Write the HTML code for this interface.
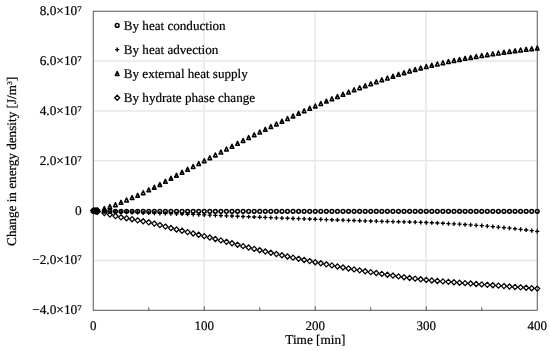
<!DOCTYPE html>
<html><head><meta charset="utf-8"><title>Change in energy density</title>
<style>
html,body{margin:0;padding:0;background:#fff;}
svg{display:block;}
text{font-family:"Liberation Serif","Times New Roman",serif;fill:#000;text-rendering:geometricPrecision;stroke:#000;stroke-width:0.2px;}
</style></head><body>
<svg width="550" height="351" viewBox="0 0 550 351">
<rect width="550" height="351" fill="#fff"/>
<defs>
<circle id="mc" r="1.85" fill="none" stroke="#000" stroke-width="1.5"/>
<path id="mp" d="M-2.1 0H2.1M0 -2.1V2.1" stroke="#000" stroke-width="1.35" fill="none"/>
<path id="mt" d="M0 -2L1.8 1.9H-1.8Z" fill="none" stroke="#000" stroke-width="1.55" stroke-linejoin="round"/>
<path id="md" d="M0 -2.55L2.5 0L0 2.55L-2.5 0Z" fill="none" stroke="#000" stroke-width="1.25"/>
</defs>

<g stroke="#e7e7e7" stroke-width="1.5" fill="none">
<path d="M93.25 61.09H537.25"/>
<path d="M93.25 110.93H537.25"/>
<path d="M93.25 160.78H537.25"/>
<path d="M93.25 210.62H537.25"/>
<path d="M93.25 260.46H537.25"/>
<path d="M204.05 11.25V310.3"/>
<path d="M315.05 11.25V310.3"/>
<path d="M426.05 11.25V310.3"/>
</g>
<rect x="93.25" y="11.25" width="444" height="299.05" fill="none" stroke="#555" stroke-width="1"/>
<g stroke="#555" stroke-width="1">
<path d="M148.75 310.3v-3"/>
<path d="M204.25 310.3v-4"/>
<path d="M259.75 310.3v-3"/>
<path d="M315.25 310.3v-4"/>
<path d="M370.75 310.3v-3"/>
<path d="M426.25 310.3v-4"/>
<path d="M481.75 310.3v-3"/>
</g>
<g>
<use href="#md" x="93.25" y="210.62"/>
<use href="#md" x="93.81" y="210.73"/>
<use href="#md" x="94.36" y="210.85"/>
<use href="#md" x="94.92" y="210.96"/>
<use href="#md" x="95.47" y="211.08"/>
<use href="#md" x="96.03" y="211.2"/>
<use href="#md" x="96.58" y="211.32"/>
<use href="#md" x="97.14" y="211.44"/>
<use href="#md" x="97.69" y="211.56"/>
<use href="#md" x="104.35" y="213.11"/>
<use href="#md" x="109.9" y="214.53"/>
<use href="#md" x="115.45" y="216.1"/>
<use href="#md" x="121" y="217.35"/>
<use href="#md" x="126.55" y="218.22"/>
<use href="#md" x="132.1" y="219.21"/>
<use href="#md" x="137.65" y="220.34"/>
<use href="#md" x="143.2" y="221.31"/>
<use href="#md" x="148.75" y="222.33"/>
<use href="#md" x="154.3" y="223.61"/>
<use href="#md" x="159.85" y="225.08"/>
<use href="#md" x="165.4" y="226.6"/>
<use href="#md" x="170.95" y="228.06"/>
<use href="#md" x="176.5" y="229.44"/>
<use href="#md" x="182.05" y="230.79"/>
<use href="#md" x="187.6" y="232.12"/>
<use href="#md" x="193.15" y="233.46"/>
<use href="#md" x="198.7" y="234.8"/>
<use href="#md" x="204.25" y="236.16"/>
<use href="#md" x="209.8" y="237.55"/>
<use href="#md" x="215.35" y="238.97"/>
<use href="#md" x="220.9" y="240.41"/>
<use href="#md" x="226.45" y="241.86"/>
<use href="#md" x="232" y="243.3"/>
<use href="#md" x="237.55" y="244.74"/>
<use href="#md" x="243.1" y="246.16"/>
<use href="#md" x="248.65" y="247.56"/>
<use href="#md" x="254.2" y="248.92"/>
<use href="#md" x="259.75" y="250.24"/>
<use href="#md" x="265.3" y="251.53"/>
<use href="#md" x="270.85" y="252.79"/>
<use href="#md" x="276.4" y="254.04"/>
<use href="#md" x="281.95" y="255.27"/>
<use href="#md" x="287.5" y="256.48"/>
<use href="#md" x="293.05" y="257.67"/>
<use href="#md" x="298.6" y="258.84"/>
<use href="#md" x="304.15" y="259.98"/>
<use href="#md" x="309.7" y="261.1"/>
<use href="#md" x="315.25" y="262.2"/>
<use href="#md" x="320.8" y="263.28"/>
<use href="#md" x="326.35" y="264.35"/>
<use href="#md" x="331.9" y="265.41"/>
<use href="#md" x="337.45" y="266.44"/>
<use href="#md" x="343" y="267.46"/>
<use href="#md" x="348.55" y="268.45"/>
<use href="#md" x="354.1" y="269.42"/>
<use href="#md" x="359.65" y="270.37"/>
<use href="#md" x="365.2" y="271.28"/>
<use href="#md" x="370.75" y="272.17"/>
<use href="#md" x="376.3" y="273.04"/>
<use href="#md" x="381.85" y="273.91"/>
<use href="#md" x="387.4" y="274.76"/>
<use href="#md" x="392.95" y="275.6"/>
<use href="#md" x="398.5" y="276.41"/>
<use href="#md" x="404.05" y="277.2"/>
<use href="#md" x="409.6" y="277.94"/>
<use href="#md" x="415.15" y="278.65"/>
<use href="#md" x="420.7" y="279.3"/>
<use href="#md" x="426.25" y="279.9"/>
<use href="#md" x="431.8" y="280.44"/>
<use href="#md" x="437.35" y="280.95"/>
<use href="#md" x="442.9" y="281.43"/>
<use href="#md" x="448.45" y="281.87"/>
<use href="#md" x="454" y="282.3"/>
<use href="#md" x="459.55" y="282.72"/>
<use href="#md" x="465.1" y="283.13"/>
<use href="#md" x="470.65" y="283.54"/>
<use href="#md" x="476.2" y="283.95"/>
<use href="#md" x="481.75" y="284.38"/>
<use href="#md" x="487.3" y="284.82"/>
<use href="#md" x="492.85" y="285.25"/>
<use href="#md" x="498.4" y="285.68"/>
<use href="#md" x="503.95" y="286.11"/>
<use href="#md" x="509.5" y="286.53"/>
<use href="#md" x="515.05" y="286.95"/>
<use href="#md" x="520.6" y="287.37"/>
<use href="#md" x="526.15" y="287.79"/>
<use href="#md" x="531.7" y="288.21"/>
<use href="#md" x="537.25" y="288.62"/>
</g>
<g>
<use href="#mp" x="93.25" y="210.62"/>
<use href="#mp" x="93.81" y="210.66"/>
<use href="#mp" x="94.36" y="210.7"/>
<use href="#mp" x="94.92" y="210.75"/>
<use href="#mp" x="95.47" y="210.79"/>
<use href="#mp" x="96.03" y="210.83"/>
<use href="#mp" x="96.58" y="210.87"/>
<use href="#mp" x="97.14" y="210.91"/>
<use href="#mp" x="97.69" y="210.95"/>
<use href="#mp" x="104.35" y="211.36"/>
<use href="#mp" x="109.9" y="211.63"/>
<use href="#mp" x="115.45" y="211.86"/>
<use href="#mp" x="121" y="212.06"/>
<use href="#mp" x="126.55" y="212.24"/>
<use href="#mp" x="132.1" y="212.43"/>
<use href="#mp" x="137.65" y="212.62"/>
<use href="#mp" x="143.2" y="212.81"/>
<use href="#mp" x="148.75" y="212.98"/>
<use href="#mp" x="154.3" y="213.14"/>
<use href="#mp" x="159.85" y="213.3"/>
<use href="#mp" x="165.4" y="213.46"/>
<use href="#mp" x="170.95" y="213.63"/>
<use href="#mp" x="176.5" y="213.81"/>
<use href="#mp" x="182.05" y="214"/>
<use href="#mp" x="187.6" y="214.2"/>
<use href="#mp" x="193.15" y="214.42"/>
<use href="#mp" x="198.7" y="214.63"/>
<use href="#mp" x="204.25" y="214.85"/>
<use href="#mp" x="209.8" y="215.08"/>
<use href="#mp" x="215.35" y="215.31"/>
<use href="#mp" x="220.9" y="215.55"/>
<use href="#mp" x="226.45" y="215.8"/>
<use href="#mp" x="232" y="216.04"/>
<use href="#mp" x="237.55" y="216.29"/>
<use href="#mp" x="243.1" y="216.53"/>
<use href="#mp" x="248.65" y="216.77"/>
<use href="#mp" x="254.2" y="217"/>
<use href="#mp" x="259.75" y="217.22"/>
<use href="#mp" x="265.3" y="217.43"/>
<use href="#mp" x="270.85" y="217.64"/>
<use href="#mp" x="276.4" y="217.85"/>
<use href="#mp" x="281.95" y="218.05"/>
<use href="#mp" x="287.5" y="218.25"/>
<use href="#mp" x="293.05" y="218.45"/>
<use href="#mp" x="298.6" y="218.64"/>
<use href="#mp" x="304.15" y="218.83"/>
<use href="#mp" x="309.7" y="219.02"/>
<use href="#mp" x="315.25" y="219.21"/>
<use href="#mp" x="320.8" y="219.4"/>
<use href="#mp" x="326.35" y="219.59"/>
<use href="#mp" x="331.9" y="219.78"/>
<use href="#mp" x="337.45" y="219.97"/>
<use href="#mp" x="343" y="220.16"/>
<use href="#mp" x="348.55" y="220.34"/>
<use href="#mp" x="354.1" y="220.52"/>
<use href="#mp" x="359.65" y="220.7"/>
<use href="#mp" x="365.2" y="220.87"/>
<use href="#mp" x="370.75" y="221.03"/>
<use href="#mp" x="376.3" y="221.19"/>
<use href="#mp" x="381.85" y="221.33"/>
<use href="#mp" x="387.4" y="221.47"/>
<use href="#mp" x="392.95" y="221.6"/>
<use href="#mp" x="398.5" y="221.73"/>
<use href="#mp" x="404.05" y="221.87"/>
<use href="#mp" x="409.6" y="222.01"/>
<use href="#mp" x="415.15" y="222.17"/>
<use href="#mp" x="420.7" y="222.34"/>
<use href="#mp" x="426.25" y="222.53"/>
<use href="#mp" x="431.8" y="222.75"/>
<use href="#mp" x="437.35" y="222.99"/>
<use href="#mp" x="442.9" y="223.26"/>
<use href="#mp" x="448.45" y="223.55"/>
<use href="#mp" x="454" y="223.86"/>
<use href="#mp" x="459.55" y="224.19"/>
<use href="#mp" x="465.1" y="224.54"/>
<use href="#mp" x="470.65" y="224.91"/>
<use href="#mp" x="476.2" y="225.3"/>
<use href="#mp" x="481.75" y="225.69"/>
<use href="#mp" x="487.3" y="226.12"/>
<use href="#mp" x="492.85" y="226.58"/>
<use href="#mp" x="498.4" y="227.07"/>
<use href="#mp" x="503.95" y="227.59"/>
<use href="#mp" x="509.5" y="228.15"/>
<use href="#mp" x="515.05" y="228.73"/>
<use href="#mp" x="520.6" y="229.34"/>
<use href="#mp" x="526.15" y="229.97"/>
<use href="#mp" x="531.7" y="230.63"/>
<use href="#mp" x="537.25" y="231.3"/>
</g>
<g>
<use href="#mc" x="93.25" y="210.62"/>
<use href="#mc" x="93.81" y="210.64"/>
<use href="#mc" x="94.36" y="210.66"/>
<use href="#mc" x="94.92" y="210.68"/>
<use href="#mc" x="95.47" y="210.7"/>
<use href="#mc" x="96.03" y="210.71"/>
<use href="#mc" x="96.58" y="210.73"/>
<use href="#mc" x="97.14" y="210.75"/>
<use href="#mc" x="97.69" y="210.77"/>
<use href="#mc" x="104.35" y="210.99"/>
<use href="#mc" x="109.9" y="211.2"/>
<use href="#mc" x="115.45" y="211.31"/>
<use href="#mc" x="121" y="211.32"/>
<use href="#mc" x="126.55" y="211.32"/>
<use href="#mc" x="132.1" y="211.32"/>
<use href="#mc" x="137.65" y="211.32"/>
<use href="#mc" x="143.2" y="211.32"/>
<use href="#mc" x="148.75" y="211.33"/>
<use href="#mc" x="154.3" y="211.33"/>
<use href="#mc" x="159.85" y="211.33"/>
<use href="#mc" x="165.4" y="211.33"/>
<use href="#mc" x="170.95" y="211.33"/>
<use href="#mc" x="176.5" y="211.33"/>
<use href="#mc" x="182.05" y="211.33"/>
<use href="#mc" x="187.6" y="211.34"/>
<use href="#mc" x="193.15" y="211.34"/>
<use href="#mc" x="198.7" y="211.34"/>
<use href="#mc" x="204.25" y="211.34"/>
<use href="#mc" x="209.8" y="211.34"/>
<use href="#mc" x="215.35" y="211.34"/>
<use href="#mc" x="220.9" y="211.34"/>
<use href="#mc" x="226.45" y="211.34"/>
<use href="#mc" x="232" y="211.34"/>
<use href="#mc" x="237.55" y="211.35"/>
<use href="#mc" x="243.1" y="211.35"/>
<use href="#mc" x="248.65" y="211.35"/>
<use href="#mc" x="254.2" y="211.35"/>
<use href="#mc" x="259.75" y="211.35"/>
<use href="#mc" x="265.3" y="211.35"/>
<use href="#mc" x="270.85" y="211.35"/>
<use href="#mc" x="276.4" y="211.35"/>
<use href="#mc" x="281.95" y="211.35"/>
<use href="#mc" x="287.5" y="211.35"/>
<use href="#mc" x="293.05" y="211.35"/>
<use href="#mc" x="298.6" y="211.35"/>
<use href="#mc" x="304.15" y="211.36"/>
<use href="#mc" x="309.7" y="211.36"/>
<use href="#mc" x="315.25" y="211.36"/>
<use href="#mc" x="320.8" y="211.36"/>
<use href="#mc" x="326.35" y="211.36"/>
<use href="#mc" x="331.9" y="211.36"/>
<use href="#mc" x="337.45" y="211.36"/>
<use href="#mc" x="343" y="211.36"/>
<use href="#mc" x="348.55" y="211.36"/>
<use href="#mc" x="354.1" y="211.36"/>
<use href="#mc" x="359.65" y="211.36"/>
<use href="#mc" x="365.2" y="211.36"/>
<use href="#mc" x="370.75" y="211.36"/>
<use href="#mc" x="376.3" y="211.36"/>
<use href="#mc" x="381.85" y="211.36"/>
<use href="#mc" x="387.4" y="211.36"/>
<use href="#mc" x="392.95" y="211.36"/>
<use href="#mc" x="398.5" y="211.36"/>
<use href="#mc" x="404.05" y="211.36"/>
<use href="#mc" x="409.6" y="211.36"/>
<use href="#mc" x="415.15" y="211.36"/>
<use href="#mc" x="420.7" y="211.36"/>
<use href="#mc" x="426.25" y="211.36"/>
<use href="#mc" x="431.8" y="211.36"/>
<use href="#mc" x="437.35" y="211.36"/>
<use href="#mc" x="442.9" y="211.36"/>
<use href="#mc" x="448.45" y="211.36"/>
<use href="#mc" x="454" y="211.36"/>
<use href="#mc" x="459.55" y="211.36"/>
<use href="#mc" x="465.1" y="211.36"/>
<use href="#mc" x="470.65" y="211.36"/>
<use href="#mc" x="476.2" y="211.36"/>
<use href="#mc" x="481.75" y="211.36"/>
<use href="#mc" x="487.3" y="211.36"/>
<use href="#mc" x="492.85" y="211.36"/>
<use href="#mc" x="498.4" y="211.36"/>
<use href="#mc" x="503.95" y="211.36"/>
<use href="#mc" x="509.5" y="211.36"/>
<use href="#mc" x="515.05" y="211.36"/>
<use href="#mc" x="520.6" y="211.36"/>
<use href="#mc" x="526.15" y="211.36"/>
<use href="#mc" x="531.7" y="211.36"/>
<use href="#mc" x="537.25" y="211.36"/>
</g>
<g>
<use href="#mt" x="93.25" y="210.62"/>
<use href="#mt" x="93.81" y="210.58"/>
<use href="#mt" x="94.36" y="210.53"/>
<use href="#mt" x="94.92" y="210.48"/>
<use href="#mt" x="95.47" y="210.41"/>
<use href="#mt" x="96.03" y="210.34"/>
<use href="#mt" x="96.58" y="210.26"/>
<use href="#mt" x="97.14" y="210.18"/>
<use href="#mt" x="97.69" y="210.08"/>
<use href="#mt" x="104.35" y="208.62"/>
<use href="#mt" x="109.9" y="206.63"/>
<use href="#mt" x="115.45" y="204.76"/>
<use href="#mt" x="121" y="202.39"/>
<use href="#mt" x="126.55" y="200.03"/>
<use href="#mt" x="132.1" y="197.66"/>
<use href="#mt" x="137.65" y="195.41"/>
<use href="#mt" x="143.2" y="192.75"/>
<use href="#mt" x="148.75" y="189.93"/>
<use href="#mt" x="154.3" y="187.23"/>
<use href="#mt" x="159.85" y="184.45"/>
<use href="#mt" x="165.4" y="181.36"/>
<use href="#mt" x="170.95" y="178.22"/>
<use href="#mt" x="176.5" y="175.23"/>
<use href="#mt" x="182.05" y="172.29"/>
<use href="#mt" x="187.6" y="169.39"/>
<use href="#mt" x="193.15" y="166.52"/>
<use href="#mt" x="198.7" y="163.65"/>
<use href="#mt" x="204.25" y="160.78"/>
<use href="#mt" x="209.8" y="157.88"/>
<use href="#mt" x="215.35" y="154.97"/>
<use href="#mt" x="220.9" y="152.06"/>
<use href="#mt" x="226.45" y="149.15"/>
<use href="#mt" x="232" y="146.25"/>
<use href="#mt" x="237.55" y="143.37"/>
<use href="#mt" x="243.1" y="140.51"/>
<use href="#mt" x="248.65" y="137.67"/>
<use href="#mt" x="254.2" y="134.87"/>
<use href="#mt" x="259.75" y="132.12"/>
<use href="#mt" x="265.3" y="129.38"/>
<use href="#mt" x="270.85" y="126.66"/>
<use href="#mt" x="276.4" y="123.96"/>
<use href="#mt" x="281.95" y="121.27"/>
<use href="#mt" x="287.5" y="118.61"/>
<use href="#mt" x="293.05" y="115.99"/>
<use href="#mt" x="298.6" y="113.41"/>
<use href="#mt" x="304.15" y="110.87"/>
<use href="#mt" x="309.7" y="108.38"/>
<use href="#mt" x="315.25" y="105.95"/>
<use href="#mt" x="320.8" y="103.56"/>
<use href="#mt" x="326.35" y="101.19"/>
<use href="#mt" x="331.9" y="98.85"/>
<use href="#mt" x="337.45" y="96.54"/>
<use href="#mt" x="343" y="94.28"/>
<use href="#mt" x="348.55" y="92.06"/>
<use href="#mt" x="354.1" y="89.9"/>
<use href="#mt" x="359.65" y="87.79"/>
<use href="#mt" x="365.2" y="85.74"/>
<use href="#mt" x="370.75" y="83.77"/>
<use href="#mt" x="376.3" y="81.84"/>
<use href="#mt" x="381.85" y="79.93"/>
<use href="#mt" x="387.4" y="78.05"/>
<use href="#mt" x="392.95" y="76.21"/>
<use href="#mt" x="398.5" y="74.42"/>
<use href="#mt" x="404.05" y="72.7"/>
<use href="#mt" x="409.6" y="71.04"/>
<use href="#mt" x="415.15" y="69.46"/>
<use href="#mt" x="420.7" y="67.97"/>
<use href="#mt" x="426.25" y="66.57"/>
<use href="#mt" x="431.8" y="65.26"/>
<use href="#mt" x="437.35" y="64"/>
<use href="#mt" x="442.9" y="62.8"/>
<use href="#mt" x="448.45" y="61.64"/>
<use href="#mt" x="454" y="60.53"/>
<use href="#mt" x="459.55" y="59.46"/>
<use href="#mt" x="465.1" y="58.44"/>
<use href="#mt" x="470.65" y="57.46"/>
<use href="#mt" x="476.2" y="56.52"/>
<use href="#mt" x="481.75" y="55.61"/>
<use href="#mt" x="487.3" y="54.73"/>
<use href="#mt" x="492.85" y="53.88"/>
<use href="#mt" x="498.4" y="53.05"/>
<use href="#mt" x="503.95" y="52.25"/>
<use href="#mt" x="509.5" y="51.48"/>
<use href="#mt" x="515.05" y="50.74"/>
<use href="#mt" x="520.6" y="50.03"/>
<use href="#mt" x="526.15" y="49.36"/>
<use href="#mt" x="531.7" y="48.73"/>
<use href="#mt" x="537.25" y="48.13"/>
</g>
<g font-size="13.35" text-anchor="end">
<text x="81.9" y="15.25">8.0×10⁷</text>
<text x="81.9" y="65.09">6.0×10⁷</text>
<text x="81.9" y="114.93">4.0×10⁷</text>
<text x="81.9" y="164.78">2.0×10⁷</text>
<text x="81.7" y="214.62">0</text>
<text x="81.9" y="264.46">−2.0×10⁷</text>
<text x="81.9" y="314.3">−4.0×10⁷</text>
</g>
<g font-size="13" text-anchor="middle">
<text x="93.25" y="330">0</text>
<text x="204.25" y="330">100</text>
<text x="315.25" y="330">200</text>
<text x="426.25" y="330">300</text>
<text x="537.25" y="330">400</text>
</g>
<text x="315.4" y="344.1" font-size="13.25" text-anchor="middle">Time [min]</text>
<text transform="translate(15.6 161.4) rotate(-90)" font-size="13.2" text-anchor="middle">Change in energy density [J/m<tspan font-size="7.4" dy="-4">3</tspan><tspan dy="4">]</tspan></text>
<g font-size="13.1">
<use href="#mc" x="117.2" y="25.45"/>
<text x="123.8" y="29.75">By heat conduction</text>
<use href="#mp" x="117.2" y="49.55"/>
<text x="123.8" y="53.85">By heat advection</text>
<use href="#mt" x="117.2" y="73.65"/>
<text x="123.8" y="77.95">By external heat supply</text>
<use href="#md" x="117.2" y="97.75"/>
<text x="123.8" y="102.05">By hydrate phase change</text>
</g>
</svg></body></html>
